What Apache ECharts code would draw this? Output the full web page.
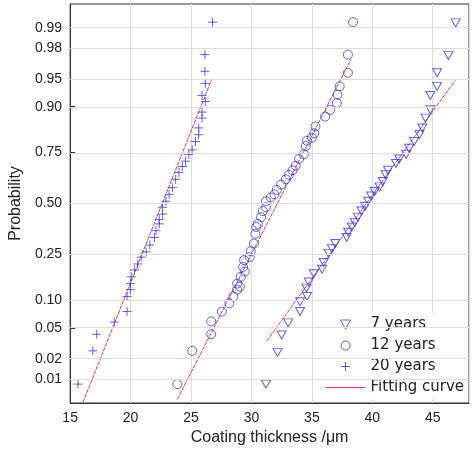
<!DOCTYPE html>
<html>
<head>
<meta charset="utf-8">
<script src="https://cdn.jsdelivr.net/npm/echarts@6/dist/echarts.min.js"></script>
<style>html,body{margin:0;padding:0;background:#fff}#chart{width:474px;height:451px}</style>
</head>
<body>
<div id="chart"></div>
<script>
// probability tick labels (normal probability scale)
const probTicks = ["0.01", "0.02", "0.05", "0.10", "0.25", "0.50", "0.75", "0.90", "0.95", "0.98", "0.99"];

// points as [thickness, normal quantile]
const y20 = [[15.65,-2.39],[16.88,-1.95],[17.2,-1.73],[18.65,-1.57],[19.71,-1.43],[19.71,-1.23],[19.98,-1.14],[19.98,-1.06],[20.06,-0.97],[20.33,-0.88],[20.6,-0.8],[20.88,-0.71],[21.29,-0.64],[21.6,-0.55],[21.97,-0.45],[22.1,-0.36],[22.37,-0.27],[22.37,-0.21],[22.65,-0.14],[22.65,-0.05],[22.92,0.03],[23.19,0.12],[23.46,0.21],[23.73,0.32],[24.0,0.41],[24.28,0.49],[24.55,0.56],[24.82,0.65],[25.1,0.71],[25.37,0.82],[25.64,0.91],[25.64,1.0],[25.91,1.13],[25.91,1.21],[26.18,1.35],[25.91,1.43],[26.18,1.59],[26.15,1.75],[26.15,1.97],[26.78,2.4]];
const y12 = [[23.87,-2.39],[25.1,-1.95],[26.67,-1.73],[26.67,-1.56],[27.55,-1.43],[28.17,-1.32],[28.5,-1.23],[28.82,-1.14],[28.82,-1.06],[29.12,-0.97],[29.31,-0.84],[29.39,-0.75],[29.04,-1.1],[29.45,-0.9],[29.86,-0.71],[29.94,-0.63],[30.2,-0.53],[30.32,-0.4],[30.4,-0.31],[30.53,-0.27],[30.8,-0.18],[30.94,-0.1],[31.2,-0.05],[31.2,0.03],[31.6,0.08],[31.9,0.12],[32.1,0.18],[32.45,0.25],[32.85,0.32],[33.1,0.38],[33.4,0.44],[33.67,0.5],[33.94,0.59],[34.35,0.65],[34.5,0.76],[34.6,0.83],[35.0,0.87],[35.2,0.93],[35.3,1.02],[36.1,1.15],[36.5,1.24],[37.07,1.33],[37.12,1.44],[37.3,1.55],[37.98,1.73],[37.98,1.97],[38.4,2.4]];
const y7 = [[31.2,-2.39],[32.16,-1.97],[32.5,-1.74],[33.04,-1.58],[34.02,-1.43],[34.02,-1.3],[34.6,-1.23],[34.55,-1.12],[34.75,-1.04],[35.16,-0.93],[35.84,-0.87],[35.98,-0.78],[36.39,-0.66],[36.66,-0.6],[36.93,-0.53],[37.88,-0.45],[38.0,-0.38],[38.3,-0.31],[38.55,-0.25],[38.8,-0.18],[39.1,-0.1],[39.4,-0.04],[39.65,0.03],[39.9,0.1],[40.2,0.16],[40.6,0.22],[40.87,0.29],[41.1,0.38],[41.3,0.44],[41.96,0.53],[42.23,0.59],[42.8,0.65],[43.05,0.73],[43.46,0.82],[43.9,0.91],[44.14,1.0],[44.4,1.13],[44.8,1.24],[44.8,1.43],[45.36,1.55],[45.36,1.73],[46.3,1.96],[46.9,2.39]];

// fitted lines (end points)
const fit20 = [[16.06,-2.63],[26.73,1.65]];
const fit12 = [[23.87,-2.59],[38.24,1.91]];
const fit7 = [[31.27,-1.82],[46.86,1.63]];

function normCdf(z) {
  // Abramowitz-Stegun erf
  const x = Math.abs(z) / Math.SQRT2, t = 1 / (1 + 0.3275911 * x);
  const e = 1 - (((((1.061405429 * t - 1.453152027) * t) + 1.421413741) * t - 0.284496736) * t + 0.254829592) * t * Math.exp(-x * x);
  return z >= 0 ? 0.5 * (1 + e) : 0.5 * (1 - e);
}
function probit(p) {
  let lo = -5, hi = 5;
  for (let i = 0; i < 60; i++) { const m = (lo + hi) / 2; if (normCdf(m) < p) lo = m; else hi = m; }
  return (lo + hi) / 2;
}
const tickZ = probTicks.map(p => probit(parseFloat(p)));

const blue = "#3a3ad0";
const red = "#e0306a";
const triDown = "path://M0,0L10,0L5,9Z";
const plus = "path://M5,0L5,10M0,5L10,5";
const hollow = { color: "rgba(0,0,0,0)", borderColor: blue, borderWidth: 1 };
const fitStyle = { color: red, width: 1, type: [4, 1] };

const chart = echarts.init(document.getElementById("chart"));
chart.setOption({
  animation: false,
  textStyle: { fontFamily: "Liberation Sans, Arial, sans-serif" },
  grid: { left: 63, right: 5, top: 4, bottom: 44, show: true, borderColor: "#333", borderWidth: 1 },
  legend: {
    right: 8, bottom: 52, orient: "vertical", itemGap: 6, itemWidth: 40, itemHeight: 9,
    backgroundColor: "#fff", padding: [4, 2, 4, 4],
    textStyle: { fontSize: 15, color: "#222", fontFamily: "DejaVu Sans, sans-serif" },
    data: [
      { name: "7 years", icon: triDown, itemStyle: hollow },
      { name: "12 years", icon: "circle", itemStyle: hollow },
      { name: "20 years", icon: plus, itemStyle: hollow },
      { name: "Fitting curve", icon: "path://M0,0H40V1H0Z", itemStyle: { color: red, borderWidth: 0 } }
    ]
  },
  xAxis: {
    type: "value", min: 15, max: 48, interval: 5,
    name: "Coating thickness /μm", nameLocation: "middle", nameGap: 27,
    nameTextStyle: { fontSize: 16, color: "#222" },
    axisLine: { onZero: false, lineStyle: { color: "#333" } },
    axisTick: { show: false },
    axisLabel: { fontSize: 14, color: "#222", showMaxLabel: false },
    splitLine: { lineStyle: { color: "#dcdcdc" } }
  },
  yAxis: {
    type: "value", min: -2.64, max: 2.64,
    name: "Probability", nameLocation: "middle", nameGap: 46,
    nameTextStyle: { fontSize: 16, color: "#222" },
    axisLine: { lineStyle: { color: "#333" } },
    axisTick: { show: true, customValues: tickZ, inside: true, lineStyle: { color: "#333" } },
    axisLabel: {
      fontSize: 14, color: "#222", customValues: tickZ,
      formatter: v => { const i = tickZ.findIndex(z => Math.abs(z - v) < 1e-6); return i >= 0 ? probTicks[i] : ""; }
    },
    splitLine: { show: false }
  },
  series: [
    {
      name: "7 years", type: "scatter", data: y7, symbol: triDown, symbolSize: [9, 8], itemStyle: hollow, z: 3,
      markLine: {
        silent: true, symbol: "none", label: { show: false }, animation: false,
        lineStyle: { color: "#dcdcdc", type: "solid", width: 1 },
        data: tickZ.map(z => ({ yAxis: z }))
      }
    },
    { name: "12 years", type: "scatter", data: y12, symbol: "circle", symbolSize: 9, itemStyle: hollow, z: 3 },
    { name: "20 years", type: "scatter", data: y20, symbol: plus, symbolSize: 9, itemStyle: hollow, z: 3 },
    { name: "Fitting curve", type: "line", data: fit20, symbol: "none", lineStyle: fitStyle, itemStyle: { color: red } },
    { name: "Fitting curve", type: "line", data: fit12, symbol: "none", lineStyle: fitStyle, itemStyle: { color: red } },
    { name: "Fitting curve", type: "line", data: fit7, symbol: "none", lineStyle: fitStyle, itemStyle: { color: red } }
  ]
});
</script>
</body>
</html>
